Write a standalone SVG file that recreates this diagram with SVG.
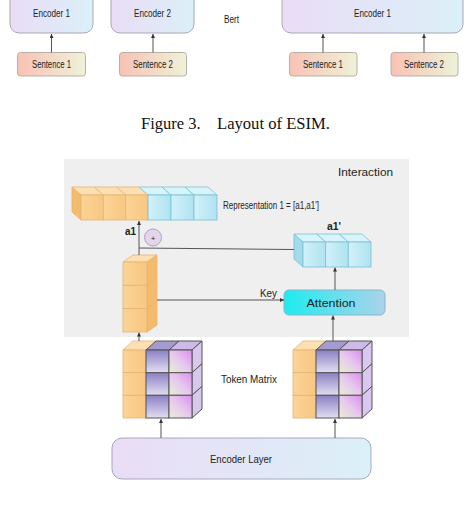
<svg xmlns="http://www.w3.org/2000/svg" width="474" height="507" viewBox="0 0 474 507">
<defs>
<linearGradient id="gEnc" x1="0" y1="0" x2="1" y2="0"><stop offset="0" stop-color="#eadcf6"/><stop offset="1" stop-color="#dbf0f8"/></linearGradient>
<linearGradient id="gSen" x1="0" y1="0" x2="1" y2="0"><stop offset="0" stop-color="#f8c2b4"/><stop offset="1" stop-color="#eef2d8"/></linearGradient>
<linearGradient id="gAtt" x1="0" y1="0" x2="1" y2="0"><stop offset="0" stop-color="#1decf0"/><stop offset="1" stop-color="#acd3ea"/></linearGradient>
<linearGradient id="gOr" x1="0" y1="0" x2="1" y2="0"><stop offset="0" stop-color="#fbd496"/><stop offset="1" stop-color="#f8c783"/></linearGradient>
<linearGradient id="gBl" x1="0" y1="0" x2="1" y2="0"><stop offset="0" stop-color="#d2f1f9"/><stop offset="1" stop-color="#afe2f1"/></linearGradient>
<linearGradient id="gPu" x1="0" y1="0" x2="0" y2="1"><stop offset="0" stop-color="#8b80c2"/><stop offset="1" stop-color="#e2def3"/></linearGradient>
<linearGradient id="gPk" x1="0" y1="1" x2="1" y2="0"><stop offset="0" stop-color="#e9efd2"/><stop offset="0.5" stop-color="#e6c8ee"/><stop offset="1" stop-color="#dc8eec"/></linearGradient>
<marker id="ah" viewBox="0 0 6 6" refX="6" refY="3" markerWidth="4" markerHeight="4" orient="auto" markerUnits="userSpaceOnUse"><path d="M0,0 L6,3 L0,6 z" fill="#333"/></marker>
</defs>
<style>
text{font-family:"Liberation Sans",Arial,sans-serif;fill:#222;}
.cap{font-family:"Liberation Serif","Times New Roman",serif;font-size:16.5px;fill:#111;}
.lbl{font-size:10px;}
.enc{fill:url(#gEnc);stroke:#a8a8b8;stroke-width:1;}
.sen{fill:url(#gSen);stroke:#b8b0a6;stroke-width:1;}
.or{fill:url(#gOr);stroke:#e7b474;stroke-width:0.8;}
.orT{fill:#fde0b2;stroke:#e7b474;stroke-width:0.8;}
.orS{fill:#f4bb6c;stroke:#e7b474;stroke-width:0.8;}
.bl{fill:url(#gBl);stroke:#78c0d6;stroke-width:0.8;}
.blT{fill:#d8f3fa;stroke:#78c0d6;stroke-width:0.8;}
.blS{fill:#a3dbea;stroke:#78c0d6;stroke-width:0.8;}
.pu{fill:url(#gPu);stroke:#555;stroke-width:1;}
.puT{fill:#a59bd0;stroke:#555;stroke-width:1;}
.pk{fill:url(#gPk);stroke:#555;stroke-width:1;}
.pkT{fill:#cbbbe6;stroke:#555;stroke-width:1;}
.pkS{fill:#d8c8ee;stroke:#555;stroke-width:1;}
.con{stroke:#555;stroke-width:1;fill:none;}
.arr{marker-end:url(#ah);}
</style>

<!-- top row -->
<g id="enc1a"><rect class="enc" x="10" y="-20" width="83" height="53" rx="9"/><text class="lbl" x="51.5" y="17" text-anchor="middle" textLength="37" lengthAdjust="spacingAndGlyphs">Encoder 1</text></g>
<g id="enc2a"><rect class="enc" x="111" y="-20" width="83" height="53" rx="9"/><text class="lbl" x="152.5" y="17" text-anchor="middle" textLength="37" lengthAdjust="spacingAndGlyphs">Encoder 2</text></g>
<g id="bert"><text class="lbl" x="231.5" y="23" text-anchor="middle" textLength="15" lengthAdjust="spacingAndGlyphs">Bert</text></g>
<g id="enc1b"><rect class="enc" x="282" y="-20" width="181" height="53" rx="9"/><text class="lbl" x="372.5" y="17" text-anchor="middle" textLength="37" lengthAdjust="spacingAndGlyphs">Encoder 1</text></g>
<g id="sen1a"><rect class="sen" x="17.5" y="52.5" width="68" height="23.5" rx="3"/><text class="lbl" x="51.5" y="68" text-anchor="middle" textLength="39" lengthAdjust="spacingAndGlyphs">Sentence 1</text></g>
<g id="sen2a"><rect class="sen" x="119.5" y="52.5" width="67" height="23.5" rx="3"/><text class="lbl" x="153" y="68" text-anchor="middle" textLength="40" lengthAdjust="spacingAndGlyphs">Sentence 2</text></g>
<g id="sen1b"><rect class="sen" x="289.5" y="52.5" width="67.5" height="23.5" rx="3"/><text class="lbl" x="323" y="68" text-anchor="middle" textLength="40" lengthAdjust="spacingAndGlyphs">Sentence 1</text></g>
<g id="sen2b"><rect class="sen" x="391" y="52.5" width="67" height="23.5" rx="3"/><text class="lbl" x="424" y="68" text-anchor="middle" textLength="40" lengthAdjust="spacingAndGlyphs">Sentence 2</text></g>

<g id="caption"><text class="cap" x="141" y="129">Figure 3.</text><text class="cap" x="217" y="129" textLength="113" lengthAdjust="spacingAndGlyphs">Layout of ESIM.</text></g>

<!-- interaction panel -->
<g id="interaction"><rect x="64" y="159" width="345" height="178" fill="#efefef"/><text x="338" y="176" font-size="11.5" textLength="55" lengthAdjust="spacingAndGlyphs">Interaction</text></g>

<!-- representation bar -->
<g id="representation">
<polygon class="orS" points="72,187 81,195 81,220 72,212"/>
<polygon class="orT" points="81,195 103.3,195 94.3,187 72,187"/>
<polygon class="orT" points="103.3,195 125.7,195 116.7,187 94.3,187"/>
<polygon class="orT" points="125.7,195 148,195 139,187 116.7,187"/>
<polygon class="blT" points="148,195 171,195 162,187 139,187"/>
<polygon class="blT" points="171,195 194,195 185,187 162,187"/>
<polygon class="blT" points="194,195 217,195 208,187 185,187"/>
<rect class="or" x="81" y="195" width="22.3" height="25"/>
<rect class="or" x="103.3" y="195" width="22.4" height="25"/>
<rect class="or" x="125.7" y="195" width="22.3" height="25"/>
<rect class="bl" x="148" y="195" width="23" height="25"/>
<rect class="bl" x="171" y="195" width="23" height="25"/>
<rect class="bl" x="194" y="195" width="23" height="25"/>
<text x="223" y="209" font-size="10" textLength="96" lengthAdjust="spacingAndGlyphs">Representation 1 = [a1,a1']</text>
</g>

<g id="a1label"><text x="125" y="235" font-size="11" font-weight="bold" textLength="11" lengthAdjust="spacingAndGlyphs">a1</text></g>

<g id="plus"><circle cx="153" cy="237.5" r="8.5" fill="#e4d4ec" stroke="#b59fc6" stroke-width="1"/><text x="153" y="240.5" font-size="8" text-anchor="middle" fill="#555">+</text></g>

<!-- a1 column -->
<g id="a1col">
<polygon class="orT" points="123,262 147,262 157,255 133,255"/>
<polygon class="orS" points="147,262 157,255 157,278.3 147,285.3"/>
<polygon class="orS" points="147,285.3 157,278.3 157,301.7 147,308.7"/>
<polygon class="orS" points="147,308.7 157,301.7 157,325 147,332"/>
<rect class="or" x="123" y="262" width="24" height="23.3"/>
<rect class="or" x="123" y="285.3" width="24" height="23.4"/>
<rect class="or" x="123" y="308.7" width="24" height="23.3"/>
</g>

<!-- a1' bar -->
<g id="a1prime">
<polygon class="blS" points="294,234 303,242 303,267 294,259"/>
<polygon class="blT" points="303,242 325.7,242 316.7,234 294,234"/>
<polygon class="blT" points="325.7,242 348.3,242 339.3,234 316.7,234"/>
<polygon class="blT" points="348.3,242 371,242 362,234 339.3,234"/>
<rect class="bl" x="303" y="242" width="22.7" height="25"/>
<rect class="bl" x="325.7" y="242" width="22.6" height="25"/>
<rect class="bl" x="348.3" y="242" width="22.7" height="25"/>
<text x="327" y="230" font-size="11" font-weight="bold" textLength="14" lengthAdjust="spacingAndGlyphs">a1'</text>
</g>

<g id="attention"><rect x="284" y="290" width="101" height="25" rx="5" fill="url(#gAtt)" stroke="#86b6cc" stroke-width="1"/><text x="331" y="307" font-size="11" text-anchor="middle" textLength="49" lengthAdjust="spacingAndGlyphs">Attention</text></g>

<!-- token matrices -->
<g id="tokenLeft">
<polygon class="orT" points="123,350 146,350 156,341 133,341"/>
<polygon class="puT" points="146,350 169,350 179,341 156,341"/>
<polygon class="pkT" points="169,350 192,350 202,341 179,341"/>
<polygon class="pkS" points="192,350 202,341 202,363.7 192,372.7"/>
<polygon class="pkS" points="192,372.7 202,363.7 202,386.3 192,395.3"/>
<polygon class="pkS" points="192,395.3 202,386.3 202,409 192,418"/>
<rect class="or" x="123" y="350" width="23" height="22.7"/>
<rect class="or" x="123" y="372.7" width="23" height="22.6"/>
<rect class="or" x="123" y="395.3" width="23" height="22.7"/>
<rect class="pu" x="146" y="350" width="23" height="22.7"/>
<rect class="pu" x="146" y="372.7" width="23" height="22.6"/>
<rect class="pu" x="146" y="395.3" width="23" height="22.7"/>
<rect class="pk" x="169" y="350" width="23" height="22.7"/>
<rect class="pk" x="169" y="372.7" width="23" height="22.6"/>
<rect class="pk" x="169" y="395.3" width="23" height="22.7"/>
</g>
<g id="tokenRight">
<polygon class="orT" points="293,350 316,350 326,341 303,341"/>
<polygon class="puT" points="316,350 339,350 349,341 326,341"/>
<polygon class="pkT" points="339,350 362,350 372,341 349,341"/>
<polygon class="pkS" points="362,350 372,341 372,363.7 362,372.7"/>
<polygon class="pkS" points="362,372.7 372,363.7 372,386.3 362,395.3"/>
<polygon class="pkS" points="362,395.3 372,386.3 372,409 362,418"/>
<rect class="or" x="293" y="350" width="23" height="22.7"/>
<rect class="or" x="293" y="372.7" width="23" height="22.6"/>
<rect class="or" x="293" y="395.3" width="23" height="22.7"/>
<rect class="pu" x="316" y="350" width="23" height="22.7"/>
<rect class="pu" x="316" y="372.7" width="23" height="22.6"/>
<rect class="pu" x="316" y="395.3" width="23" height="22.7"/>
<rect class="pk" x="339" y="350" width="23" height="22.7"/>
<rect class="pk" x="339" y="372.7" width="23" height="22.6"/>
<rect class="pk" x="339" y="395.3" width="23" height="22.7"/>
</g>
<g id="tokenLabel"><text x="221" y="383" font-size="10.5" textLength="56" lengthAdjust="spacingAndGlyphs">Token Matrix</text></g>

<g id="encoderLayer"><rect x="112" y="438" width="259" height="41" rx="10" class="enc"/><text x="241" y="463" font-size="11" text-anchor="middle" textLength="62" lengthAdjust="spacingAndGlyphs">Encoder Layer</text></g>

<!-- connectors -->
<g id="connectors">
<line class="con arr" x1="51.5" y1="52.5" x2="51.5" y2="34"/>
<line class="con arr" x1="153" y1="52.5" x2="153" y2="34"/>
<line class="con arr" x1="323" y1="52.5" x2="323" y2="34"/>
<line class="con arr" x1="424" y1="52.5" x2="424" y2="34"/>
<line class="con arr" x1="139" y1="255" x2="139" y2="221"/>
<line class="con" x1="139" y1="248" x2="294" y2="249.5"/>
<line class="con arr" x1="157" y1="300" x2="284" y2="300"/>
<line class="con arr" x1="335" y1="290" x2="335" y2="267.5"/>
<line class="con arr" x1="333" y1="341" x2="333" y2="315.5"/>
<line class="con arr" x1="139" y1="341" x2="139" y2="332.5"/>
<line class="con arr" x1="161" y1="438" x2="161" y2="419"/>
<line class="con arr" x1="335" y1="438" x2="335" y2="419"/>
</g>
<g id="keyLabel"><text x="260" y="297" font-size="10" textLength="17" lengthAdjust="spacingAndGlyphs">Key</text></g>
</svg>
